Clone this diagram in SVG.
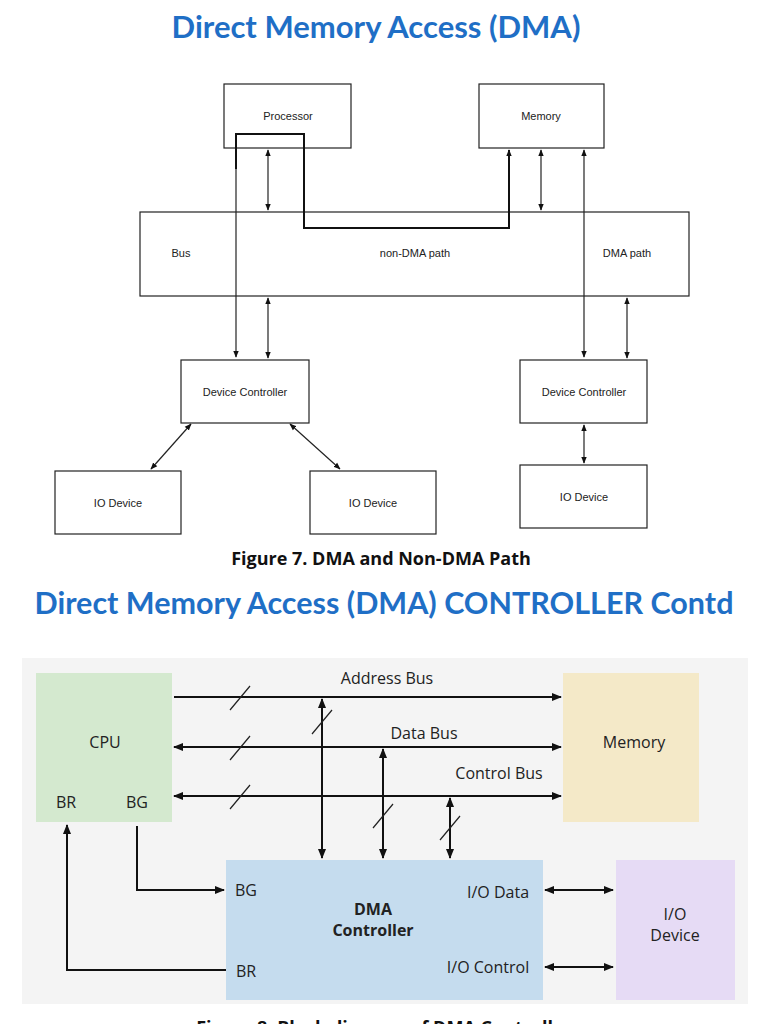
<svg xmlns="http://www.w3.org/2000/svg" width="768" height="1024" viewBox="0 0 768 1024">
<defs>
<marker id="a" viewBox="0 0 10 10" refX="9" refY="5" markerWidth="7" markerHeight="7" orient="auto-start-reverse" markerUnits="userSpaceOnUse"><path d="M0,1 L10,5 L0,9 z" fill="#111"/></marker>
<marker id="b" viewBox="0 0 10 10" refX="9" refY="5" markerWidth="10" markerHeight="10" orient="auto-start-reverse" markerUnits="userSpaceOnUse"><path d="M0,1 L10,5 L0,9 z" fill="#111"/></marker>
</defs>
<style>
.t{font-family:Lato,"Open Sans",sans-serif;font-weight:bold;fill:#1f6fc6;text-anchor:middle}
.c{font-family:"Open Sans",sans-serif;font-weight:bold;fill:#111;text-anchor:middle;font-size:18px}
.box{fill:#fff;stroke:#222;stroke-width:1.2}
.s{font-family:"Liberation Sans",Arial,sans-serif;font-size:11px;fill:#222;text-anchor:middle}
.l{stroke:#222;stroke-width:1.2;fill:none}
.L{stroke:#111;stroke-width:2;fill:none}
.n{font-family:"Open Sans",sans-serif;font-size:16px;fill:#222;text-anchor:middle}
</style>
<rect width="768" height="1024" fill="#fff"/>
<text class="t" x="376" y="38" font-size="31">Direct Memory Access (DMA)</text>
<g id="processor"><rect class="box" x="224" y="84" width="127" height="64"/><text class="s" x="288" y="120">Processor</text></g>
<g id="memory1"><rect class="box" x="479" y="84" width="125" height="64"/><text class="s" x="541" y="120">Memory</text></g>
<g id="bus"><rect class="box" x="140" y="212" width="549" height="84"/><text class="s" x="181" y="257">Bus</text><text class="s" x="415" y="257">non-DMA path</text><text class="s" x="627" y="257">DMA path</text></g>
<g id="dc1"><rect class="box" x="181" y="360" width="128" height="63"/><text class="s" x="245" y="396">Device Controller</text></g>
<g id="dc2"><rect class="box" x="520" y="360" width="127" height="63"/><text class="s" x="584" y="396">Device Controller</text></g>
<g id="io1"><rect class="box" x="55" y="471" width="126" height="63"/><text class="s" x="118" y="507">IO Device</text></g>
<g id="io2"><rect class="box" x="310" y="471" width="126" height="63"/><text class="s" x="373" y="507">IO Device</text></g>
<g id="io3"><rect class="box" x="520" y="465" width="127" height="63"/><text class="s" x="584" y="501">IO Device</text></g>
<g id="connectors1">
<path class="l" d="M268,150 V210" marker-start="url(#a)" marker-end="url(#a)"/>
<path class="l" d="M541,150 V210" marker-start="url(#a)" marker-end="url(#a)"/>
<path class="L" d="M236,169 V134 H304 V228 H509 V150" marker-end="url(#a)" stroke-width="2.5"/>
<path class="l" d="M236,169 V357" marker-end="url(#a)"/>
<path class="l" d="M268,298 V358" marker-start="url(#a)" marker-end="url(#a)"/>
<path class="l" d="M584,150 V357" marker-start="url(#a)" marker-end="url(#a)" stroke-width="1.6"/>
<path class="l" d="M627,298 V358" marker-start="url(#a)" marker-end="url(#a)"/>
<path class="l" d="M584,425 V463" marker-start="url(#a)" marker-end="url(#a)"/>
<path class="l" d="M191,424 L151,469" marker-start="url(#a)" marker-end="url(#a)"/>
<path class="l" d="M290,424 L340,469" marker-start="url(#a)" marker-end="url(#a)"/>
</g>
<text class="c" x="381" y="565">Figure 7. DMA and Non-DMA Path</text>
<text class="t" x="384" y="614" font-size="30.5">Direct Memory Access (DMA) CONTROLLER Contd</text>
<rect x="22" y="658" width="726" height="346" fill="#f4f4f4"/>
<g id="cpu"><rect x="36" y="673" width="136" height="149" fill="#d4e9cf"/><text class="n" x="105" y="748">CPU</text><text class="n" x="66" y="808">BR</text><text class="n" x="137" y="808">BG</text></g>
<g id="memory2"><rect x="563" y="673" width="136" height="149" fill="#f4e9c8"/><text class="n" x="634" y="748">Memory</text></g>
<g id="dma"><rect x="226" y="860" width="317" height="140" fill="#c5dcee"/><text class="n" x="246" y="896">BG</text><text class="n" x="246" y="977">BR</text><text class="n" x="498" y="898">I/O Data</text><text class="n" x="488" y="973">I/O Control</text><text class="n" x="373" y="915" font-weight="bold">DMA</text><text class="n" x="373" y="936" font-weight="bold">Controller</text></g>
<g id="iodev"><rect x="616" y="860" width="119" height="140" fill="#e6dbf5"/><text class="n" x="675" y="920">I/O</text><text class="n" x="675" y="941">Device</text></g>
<g id="connectors2">
<text class="n" x="387" y="684">Address Bus</text>
<text class="n" x="424" y="739">Data Bus</text>
<text class="n" x="499" y="779">Control Bus</text>
<path class="L" d="M174,697 H561" marker-end="url(#b)"/>
<path class="L" d="M174,747 H561" marker-start="url(#b)" marker-end="url(#b)"/>
<path class="L" d="M174,796 H561" marker-start="url(#b)" marker-end="url(#b)"/>
<path class="L" d="M322,699 V858" marker-start="url(#b)" marker-end="url(#b)"/>
<path class="L" d="M383,749 V858" marker-start="url(#b)" marker-end="url(#b)"/>
<path class="L" d="M450,798 V858" marker-start="url(#b)" marker-end="url(#b)"/>
<path class="l" d="M230,710 L250,686 M230,760 L250,736 M230,809 L250,785 M312,734 L332,710 M373,828 L393,804 M440,840 L460,816"/>
<path class="L" d="M137,826 V890 H224" marker-end="url(#b)"/>
<path class="L" d="M226,970 H67 V825" marker-end="url(#b)"/>
<path class="L" d="M545,890 H613" marker-start="url(#b)" marker-end="url(#b)"/>
<path class="L" d="M545,967 H613" marker-start="url(#b)" marker-end="url(#b)"/>
</g>
<text class="c" x="384" y="1034">Figure 8. Block diagram of DMA Controller</text>
</svg>
